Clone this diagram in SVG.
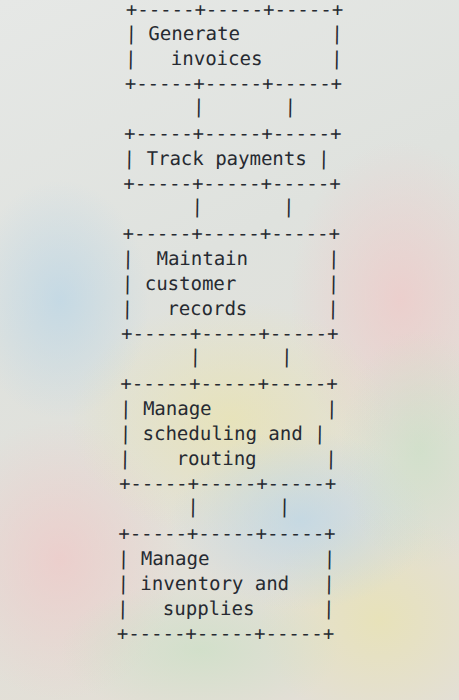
<svg xmlns="http://www.w3.org/2000/svg" width="459" height="700" viewBox="0 0 459 700" xml:space="preserve">
<defs>
<style>
text{font-family:"DejaVu Sans Mono","Liberation Mono",monospace;font-size:19px;fill:#262a31;white-space:pre}
</style>
<linearGradient id="bg" x1="0" y1="0" x2="0.3" y2="1">
<stop offset="0" stop-color="#e6e8e6"/>
<stop offset="0.45" stop-color="#dfe2de"/>
<stop offset="1" stop-color="#e3dfd6"/>
</linearGradient>
<radialGradient id="pk"><stop offset="0" stop-color="#efc9c8" stop-opacity="0.75"/><stop offset="1" stop-color="#efc9c8" stop-opacity="0"/></radialGradient>
<radialGradient id="yl"><stop offset="0" stop-color="#e9e3b0" stop-opacity="0.75"/><stop offset="1" stop-color="#e9e3b0" stop-opacity="0"/></radialGradient>
<radialGradient id="bl"><stop offset="0" stop-color="#bcd6e6" stop-opacity="0.75"/><stop offset="1" stop-color="#bcd6e6" stop-opacity="0"/></radialGradient>
<radialGradient id="gr"><stop offset="0" stop-color="#c9e0c4" stop-opacity="0.65"/><stop offset="1" stop-color="#c9e0c4" stop-opacity="0"/></radialGradient>
</defs>
<rect width="459" height="700" fill="url(#bg)"/>
<ellipse cx="60" cy="560" rx="120" ry="140" fill="url(#pk)"/>
<ellipse cx="400" cy="300" rx="110" ry="160" fill="url(#pk)"/>
<ellipse cx="380" cy="620" rx="120" ry="110" fill="url(#yl)"/>
<ellipse cx="230" cy="420" rx="160" ry="120" fill="url(#yl)"/>
<ellipse cx="60" cy="300" rx="90" ry="120" fill="url(#bl)"/>
<ellipse cx="300" cy="520" rx="130" ry="90" fill="url(#bl)"/>
<ellipse cx="200" cy="650" rx="140" ry="70" fill="url(#gr)"/>
<ellipse cx="420" cy="450" rx="80" ry="120" fill="url(#gr)"/>
<g transform="translate(126,1) skewX(-0.83)">
<g id="node-generate-invoices">
<text x="0" y="15">+-----+-----+-----+</text>
<text x="0" y="39">| Generate        |</text>
<text x="0" y="64">|   invoices      |</text>
<text x="0" y="89">+-----+-----+-----+</text>
</g>
<g id="node-track-payments">
<text x="0" y="139">+-----+-----+-----+</text>
<text x="0" y="164">| Track payments |</text>
<text x="0" y="189">+-----+-----+-----+</text>
</g>
<g id="node-maintain-customer-records">
<text x="0" y="239">+-----+-----+-----+</text>
<text x="0" y="264">|  Maintain       |</text>
<text x="0" y="289">| customer        |</text>
<text x="0" y="314">|   records       |</text>
<text x="0" y="339">+-----+-----+-----+</text>
</g>
<g id="node-manage-scheduling">
<text x="0" y="389">+-----+-----+-----+</text>
<text x="0" y="414">| Manage          |</text>
<text x="0" y="439">| scheduling and |</text>
<text x="0" y="464">|    routing      |</text>
<text x="0" y="489">+-----+-----+-----+</text>
</g>
<g id="node-manage-inventory">
<text x="0" y="539">+-----+-----+-----+</text>
<text x="0" y="564">| Manage          |</text>
<text x="0" y="589">| inventory and   |</text>
<text x="0" y="614">|   supplies      |</text>
<text x="0" y="639">+-----+-----+-----+</text>
</g>
<g id="connectors">
<text x="0" y="112">      |       |</text>
<text x="0" y="212">      |       |</text>
<text x="0" y="362">      |       |</text>
<text x="0" y="512">      |       |</text>
</g>
</g>
</svg>
